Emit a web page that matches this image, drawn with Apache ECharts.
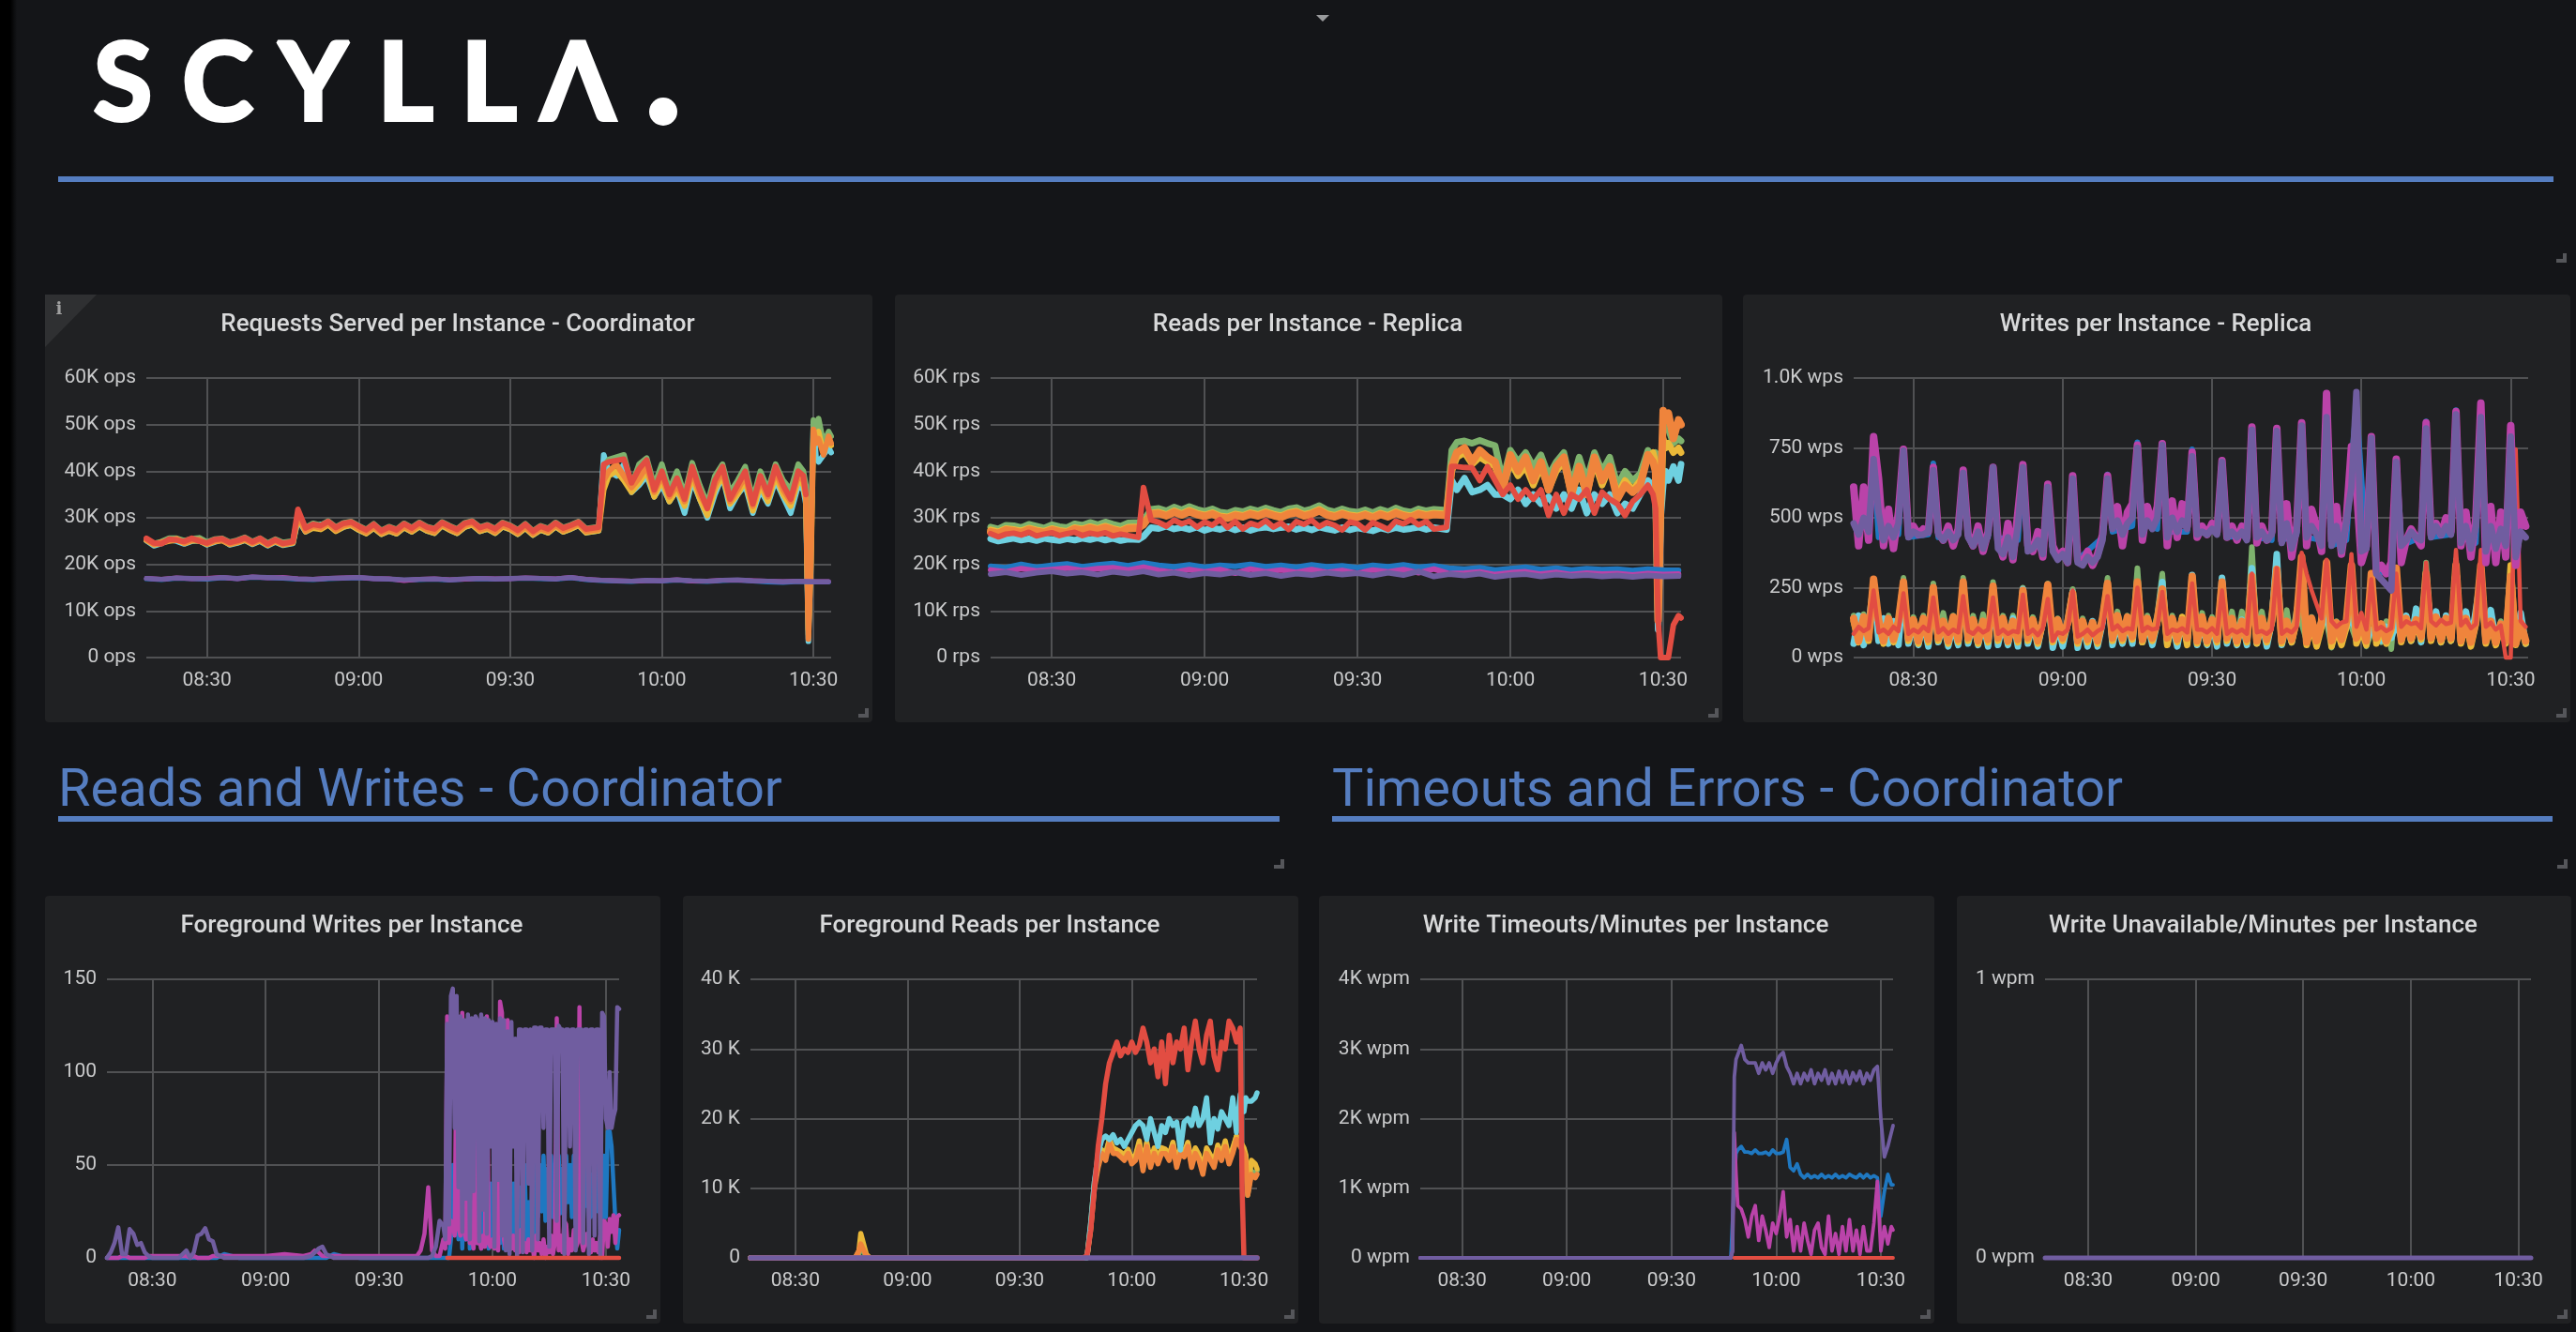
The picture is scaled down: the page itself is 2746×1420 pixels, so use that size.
<!DOCTYPE html>
<html><head><meta charset="utf-8">
<style>html,body{margin:0;padding:0;background:#141518}#c{width:2746px;height:1420px}</style>
<script src="https://cdn.jsdelivr.net/npm/echarts@6/dist/echarts.min.js"></script>
</head><body><div id="c"></div><script>
const GREEN='#7EB26D',YELLOW='#EAB839',CYAN='#6ED0E0',ORANGE='#EF843C',RED='#E24D42',BLUE='#1F78C1',MAGENTA='#BA43A9',PURPLE='#705DA0';
const tickMinutes=[510,540,570,600,630];
const timeLabels=['08:30','09:00','09:30','10:00','10:30'];
const T15=[498,499.5,501,502.5,504,505.5,507,508.5,510,511.5,513,514.5,516,517.5,519,520.5,522,523.5,525,527,528,529.5,531,532.5,534,535.5,537,538.5,540,541.5,543,544.5,546,547.5,549,550.5,552,553.5,555,556.5,558,559.5,561,562.5,564,565.5,567,568.5,570,571.5,573,574.5,576,577.5,579,580.5,582,583.5,585,587.5,588.5,589.5,591,592.5,594,595.5,597,598.5,600,601.5,603,604.5,606,607.5,609,610.5,612,613.5,615,616.5,618,619.5,621,622.5,624,625.5,627,628,628.5,629,629.5,630,630.5,631,632,633,633.5];
const T3=[498,501,504,507,510,513,516,519,522,525,528,531,534,537,540,543,546,549,552,555,558,561,564,567,570,573,576,579,582,585,588,591,594,597,600,603,606,609,612,615,618,621,624,627,630,633];
const T1=[498,499,500,501,502,503,504,505,506,507,508,509,510,511,512,513,514,515,516,517,518,519,520,521,522,523,524,525,526,527,528,529,530,531,532,533,534,535,536,537,538,539,540,541,542,543,544,545,546,547,548,549,550,551,552,553,554,555,556,557,558,559,560,561,562,563,564,565,566,567,568,569,570,571,572,573,574,575,576,577,578,579,580,581,582,583,584,585,586,587,588,589,590,591,592,593,594,595,596,597,598,599,600,601,602,603,604,605,606,607,608,609,610,611,612,613,614,615,616,617,618,619,620,621,622,623,624,625,626,627,628,629,630,631,632,633];
const Tblue=[501,502,503,507,508,509,513,514,515,519,520,521,525,526,527,531,532,533,536,537,538,541,542,543,548,549,550,554,555,556,559,560,561,565,566,567,571,572,573,577,578,579,582,583,584,587,588,589,592,593,594,597,598,599,601,602,603,606,607,608,612,613,614,618,619,620,623,624,625,629,630,631];
const T4=[498,499,500,501,502,503,504,505,506,507,508,509,510,513,517,519,520,521,522,523,524,525,526,527,529,533,540,545,550,552,553,554,555,556,558,560,565,570,575,578,580,581,582,583,584,585,586,587,587.5,588,588.5,589,589.5,590,590.5,591,591.5,592,592.5,593,593.5,594,594.5,595,595.5,596,596.5,597,597.5,598,598.5,599,599.5,600,600.5,601,601.5,602,602.5,603,603.5,604,604.5,605,605.5,606,606.5,607,607.5,608,608.5,609,609.5,610,610.5,611,611.5,612,612.5,613,613.5,614,614.5,615,615.5,616,616.5,617,617.5,618,618.5,619,619.5,620,620.5,621,621.5,622,622.5,623,623.5,624,624.5,625,625.5,626,626.5,627,627.5,628,628.5,629,629.5,630,630.5,631,631.5,632,632.5,633,633.5];
const T5=[498,510,520,525,526,527,527.5,528,529,530,540,550,560,570,580,585,586,587,588,589,590,591,592,593,594,595,596,597,598,599,600,601,602,603,604,605,606,607,608,609,610,611,612,613,614,615,616,617,618,619,620,621,622,623,624,625,626,627,628,629,629.5,630,630.5,631,632,633,633.5];
const T6=[498,586,587,587.5,588,588.5,589,590,591,592,593,594,595,596,597,598,599,600,601,602,603,604,605,606,607,608,609,610,611,612,613,614,615,616,617,618,619,620,621,622,623,624,625,626,627,628,629,630,631,632,633,633.5];
const Tflat=[498,633.5];
const Tlate=[588,633.5];

// Requests Served per Instance - Coordinator (K ops)
const p1Cyan=[25.1,24,24.5,25.3,25,24.4,25,25.1,24.2,24.8,25.3,24.2,24.6,25.2,24.3,25,24,24.8,24.1,24.5,29.5,27,27.9,28.6,28.5,27.2,28,28.4,27.4,26.7,27.8,26.5,27.2,26.6,27.9,27,28.1,27.2,26.7,28.3,27.4,26.7,28,28.5,27.1,27.6,26.7,28.1,27.5,26.5,27.8,26.3,27.4,26.8,28.1,27,27.6,28.4,26.8,27.2,43.5,40,39,41.5,35.5,37,39,34.5,37,33.5,36,31,38,34,30,35,39,32,35,37,31,36,33,38,34.5,31,37,36,33,3.5,27,50.5,43,42,43.5,45,44];
const p1Green=[25.4,24.5,24.9,25.6,25.6,25.1,25.5,25.7,24.8,25.4,25.6,24.8,25.2,25.8,24.9,25.6,24.6,25.4,24.7,25,29.8,27.9,28.8,28.4,29.3,28,28.9,29.2,28.3,27.5,28.7,27.3,28.1,27.5,28.8,27.9,29,28.1,27.7,29.1,28.3,27.6,28.9,29.3,28,28.5,27.7,29,28.4,27.4,28.7,27.2,28.3,27.7,29,27.9,28.5,29.2,27.7,28.1,41,42.5,43,43.5,37,41.5,42.8,37,41.5,36,40,35,41.8,37,33,39,41.5,35.5,38,41,34,40,36,41.5,38,36,41.5,40,37,5,25,51,47.5,51.3,46,48.5,47.5];
const p1Yellow=[25.2,24.2,24.6,25,25.2,24.5,25.1,25,24.3,24.9,25.1,24.3,24.7,25.2,24.4,25.1,24.1,24.9,24.2,24.6,30,27,27.8,27.5,28.5,27.1,28,28.4,27.4,26.6,27.8,26.5,27.2,26.6,27.9,27,28.1,27.2,26.7,28.3,27.4,26.7,28,28.5,27.1,27.6,26.7,28.1,27.5,26.5,27.8,26.3,27.4,26.8,28.1,27,27.6,28.4,26.8,27.2,36,39,40,38,35.5,37.5,40,34.5,38,33.5,36,32.5,39,34,30.5,36,39,33,35,38,31.5,37,33.5,39,35,32.5,38,37,34,6,20,48,47,48.5,44,47,45.5];
const p1Orange=[25.3,24.3,24.8,25.1,25.5,24.6,25.2,25.3,24.4,25,25.2,24.4,24.8,25.4,24.5,25.2,24.2,25,24.3,24.7,30.5,27.2,28.2,27.8,28.8,27.4,28.3,28.7,27.7,26.9,28.1,26.8,27.5,26.9,28.2,27.3,28.4,27.5,27,28.6,27.7,27,28.3,28.8,27.4,27.9,27,28.4,27.8,26.8,28.1,26.6,27.7,27.1,28.4,27.3,27.9,28.7,27.1,27.5,38,40,41.5,39,36.5,38.5,41,35.5,39,34.5,37,33.5,40,35,32,37,40,33.5,36,39,32.5,38,34.5,40,36,33.5,39,38,35,4,22,49,46,47,43.5,47.5,46];
const p1Red=[25.6,24.6,24.4,25.4,25.2,24.9,25.6,25,24.6,25.3,25.5,24.7,25.1,25.7,24.8,25.6,24.4,25.3,24.5,24.9,31.8,27.8,28.6,28.3,29.2,27.9,28.8,29.1,28.2,27.4,28.6,27.2,28,27.4,28.7,27.8,28.9,28,27.6,29,28.2,27.5,28.8,29.2,27.9,28.4,27.6,28.9,28.3,27.3,28.6,27.1,28.2,27.6,28.9,27.8,28.4,29.1,27.6,28,41.5,42,42.3,42.6,37.5,40.5,42.4,36,40,35,38.5,34,41,36,32,38,41,34,37,40,33,39,35,41,37,34,40,39,35];
const p1Blue=[16.9,16.7,17,16.9,16.8,17.1,16.9,17.2,17.1,17,16.8,16.7,16.9,17,17.1,16.9,16.8,16.6,16.7,16.8,16.6,16.8,16.9,16.8,16.9,17,16.9,16.8,17.1,16.7,16.5,16.4,16.3,16.5,16.4,16.6,16.4,16.3,16.5,16.6,16.4,16.2,16.1,16.3,16.2,16.2];
const p1Magenta=[17,16.8,17.1,16.9,17,17.2,16.9,17.3,17.1,17.2,16.9,16.8,17,17.1,17.2,16.9,16.9,16.5,16.8,16.9,16.7,16.8,17,16.9,16.9,17.1,17,16.9,17.2,16.8,16.6,16.5,16.4,16.5,16.5,16.7,16.4,16.4,16.6,16.6,16.5,16.4,16.3,16.4,16.3,16.3];
const p1Purple=[17,16.8,17.1,17,16.9,17.2,17,17.3,17.2,17.1,16.9,16.8,17,17.1,17.2,17,16.9,16.7,16.8,16.9,16.7,16.9,17,16.9,17,17.1,17,16.9,17.2,16.8,16.6,16.5,16.4,16.6,16.5,16.7,16.5,16.4,16.6,16.7,16.5,16.4,16.3,16.4,16.3,16.3];

// Reads per Instance - Replica (K rps)
const p2Cyan=[25.5,25,25.3,25.6,25.2,25.5,25.1,25.6,25.3,25.1,25.5,25.2,25.6,25.3,25.7,25.2,25.6,25.1,25.4,25.3,26,27.9,27.7,28.2,27.6,27.9,27.5,28,27.3,27.8,27.5,28,27.4,27.9,27.3,27.8,28,27.6,27.9,28.1,27.5,27.9,27.4,28,27.6,27.3,27.9,27.4,27.8,27.5,27.2,27.8,27.4,27.9,27.5,27.7,28,27.5,27.9,27.5,38,36,38.5,35.5,36,37,35,35,34,36,33,35,33,34.5,32,35,32,36,31,35,33,35,31,33,32,35,38,37,36,6,30,37,40,38,41,38,41.5];
const p2Green=[28,27.6,28.4,28.3,27.9,28.6,28.2,27.8,28.5,28.1,27.9,28.7,28.4,29,28.5,29.1,28.6,28.2,28.9,29,29.5,31.8,32,31.5,32.3,31.7,32.4,31.8,31.4,31.9,31.2,31,31.6,31.3,31.9,31.5,32.1,31.6,31.2,31.9,32.2,31.5,31.9,32.6,31.7,31.3,31.9,31.4,31.2,31.7,31.1,31.8,31.3,32.1,31.5,31.2,31.9,31.5,31.8,31.6,44.5,46.2,46.5,46,46.6,46,45.5,38,44.5,42,44,41,43.5,39,42,44,37,43,38,44,40,43,37,40,38,39.5,44.5,43,44,14,40,50,49,49,46,47,46.5];
const p2Yellow=[27.4,27,27.7,27.5,27.2,27.8,27.4,27.1,27.7,27.3,27.1,27.9,27.6,28.1,27.7,28.2,27.7,27.3,28,28.1,28.8,31,31.2,30.7,31.5,30.9,31.6,31,30.6,31.1,30.4,30.2,30.8,30.5,31.1,30.7,31.3,30.8,30.4,31.1,31.4,30.7,31.1,31.8,30.9,30.5,31.1,30.6,30.4,30.9,30.3,31,30.5,31.3,30.7,30.4,31.1,30.7,31,30.8,40,43,44,41.5,43,42,41,36,42,39,41,37,41,36,40,42,35,40,35,42,37,41,35,38,36,38,43,44,42,10,30,47,45,46,44,45,44];
const p2Orange=[27,26.6,27.4,27.2,26.8,27.5,27.1,26.8,27.4,27,26.8,27.6,27.3,27.8,27.4,27.9,27.4,27,27.7,27.8,28.5,30.8,30.9,30.4,31.2,30.6,31.3,30.7,30.3,30.8,30.1,29.9,30.5,30.2,30.8,30.4,31,30.5,30.1,30.8,31.1,30.4,30.8,31.5,30.6,30.2,30.8,30.3,30.1,30.6,30,30.7,30.2,31,30.4,30.1,30.8,30.4,30.7,30.5,41,44,45,42,44.5,43,42,36,43.5,40,43,38,42,36,41,43,35,41,35,43,38,41,34,37,35.5,37,43.5,42,40,8,35,53,51,52.5,47,51,50];
const p2Red=[26.6,25.9,26.5,26.7,26.3,26.9,26.1,26.5,26.8,26.2,26.6,26.9,26.2,26.7,26.4,26.8,26.1,26.5,26.2,25.8,36.5,29.5,29,28.2,29.5,28.7,29.3,28,29.1,28.4,29.6,27.9,29.2,27.6,28.8,28.3,29.4,28,28.9,27.5,29.2,28.6,29.5,28.1,29,28.4,27.4,29.1,28.7,27.4,29,28.3,27.5,29.3,28.7,29.6,28.5,29.2,27.6,28,41,41,40.8,40.7,38,41,38,35,37,34,36,34,36,30.5,35,31,35,34,36,31,35.5,34,33,30.5,33.5,35,37,35,32,8,0,0,0,0,7,9,8.5];
const p2Blue=[19.6,19.3,20,19.4,19.8,20.1,19.5,19.9,20.2,19.7,20.3,19.8,19.5,19.9,19.4,19.8,19.6,20,19.5,19.8,19.4,19.9,19.5,19.7,19.3,19.8,19.5,19.9,19.4,19.7,19.2,19,19.3,18.8,19.1,19.4,18.9,19.2,18.8,19.1,18.9,19,18.7,19,18.8,18.7];
const p2Magenta=[18.8,18.4,19.1,18.6,18.9,19.2,18.7,19.1,19.3,18.8,19.4,18.7,18.3,18.9,18.4,18.9,18.1,19,18.4,18.8,18.3,18.9,18.3,18.7,18.1,18.8,18.4,18.9,18.2,19,18,18.1,18.4,17.8,18.2,18.4,17.9,18.3,17.8,18.1,17.9,18,17.7,18,17.8,17.9];
const p2Purple=[17.9,18.3,17.7,18.2,18.5,18,18.3,17.8,18.4,18,18.5,17.8,18.2,17.6,18.1,17.8,18.3,17.7,18.1,17.5,18,17.7,18.2,17.8,18.1,17.6,18.2,17.7,18.5,17.4,17.9,17.6,18,17.3,17.7,17.9,17.4,17.8,17.5,17.7,17.4,17.6,17.3,17.6,17.4,17.5];

// Writes per Instance - Replica (wps)
const p3Cyan=[50,150,45,120,260,60,140,50,130,45,260,50,125,45,130,40,240,55,125,40,120,45,240,50,135,45,130,40,230,45,130,45,140,40,245,50,125,40,130,240,35,120,40,130,235,35,125,40,130,40,125,255,45,130,50,140,50,265,55,130,45,130,270,50,125,40,135,55,295,45,125,45,130,40,285,50,130,45,135,45,320,50,135,40,130,370,45,125,55,150,300,70,120,60,115,160,70,125,65,110,150,85,120,60,100,100,60,110,70,130,70,150,60,175,55,300,70,165,55,150,60,320,60,165,55,170,290,55,170,60,120,55,240,50,160,50];
const p3Green=[150,70,155,80,270,140,70,150,75,140,285,80,145,70,150,75,265,80,160,70,150,70,285,75,150,70,155,70,270,75,150,70,150,70,250,80,145,70,140,265,65,140,75,135,245,65,140,70,130,65,150,285,70,165,75,150,80,320,70,150,75,155,300,70,150,70,145,75,295,70,160,65,145,70,285,75,165,70,165,70,395,65,165,70,160,370,65,170,60,175,120,60,145,60,140,130,35,130,70,125,110,60,120,40,90,85,55,130,30,240,70,130,70,150,80,340,75,140,70,130,70,350,65,140,60,135,280,65,140,60,130,60,300,55,140,55];
const p3Yellow=[130,55,135,60,270,125,50,135,55,125,260,60,125,50,130,55,240,60,125,50,135,55,260,60,125,50,125,55,245,60,130,55,125,55,235,60,125,50,125,250,55,125,60,120,225,50,125,55,120,50,135,255,60,140,60,135,65,260,55,130,60,125,240,45,135,55,145,45,280,50,135,50,125,55,260,60,130,50,125,55,280,50,130,55,125,305,50,125,55,130,340,45,120,40,110,320,40,105,45,110,300,50,100,45,280,50,100,50,95,300,55,130,60,125,65,280,60,135,55,130,60,320,50,130,40,120,320,50,120,45,110,50,330,45,115,50];
const p3Orange=[140,60,145,70,280,135,60,140,65,130,270,70,135,60,140,65,250,70,130,60,145,65,270,70,135,60,130,65,255,70,140,60,130,65,240,70,135,60,130,260,65,135,70,125,230,60,130,65,125,60,140,265,70,150,70,145,75,270,65,140,70,135,245,70,140,65,135,70,290,60,145,60,135,65,270,70,140,60,130,65,290,60,140,65,135,315,60,130,65,140,360,55,140,60,130,340,60,125,65,130,330,70,130,60,300,70,120,60,110,320,65,140,70,135,75,300,70,145,65,140,70,330,60,140,55,130,330,60,130,55,120,60,290,50,125,60];
const p3Red=[85,110,95,105,240,90,100,85,110,95,230,85,100,90,110,95,215,90,105,85,100,90,220,95,85,105,90,100,215,85,100,85,95,90,225,85,100,80,105,210,60,90,85,100,240,75,85,100,80,95,105,220,100,115,95,105,100,250,95,110,100,105,235,85,100,95,105,90,265,100,100,90,105,85,240,85,100,90,100,85,300,90,95,85,100,320,85,100,90,110,375,300,240,190,140,350,130,110,125,130,370,110,160,100,280,100,110,95,105,300,110,130,120,125,105,340,130,115,135,120,125,385,115,135,105,120,385,110,125,100,115,0,0,745,130,110];
const p3Blue=[440,700,430,440,740,430,440,695,430,440,660,430,430,670,430,420,680,410,390,610,380,360,640,350,430,655,450,470,770,480,460,760,450,450,745,460,450,700,430,440,820,430,420,800,420,440,830,430,420,900,400,420,700,900,390,785,300,310,700,400,430,845,430,440,885,430,410,880,400,400,780,380];
const p3Magenta=[610,400,610,420,790,640,400,530,390,520,745,440,470,440,460,450,680,450,420,470,400,460,670,440,400,470,380,450,680,420,360,480,350,520,690,400,380,450,360,620,400,360,380,340,650,350,340,380,330,370,440,650,470,540,400,520,550,760,420,540,470,540,765,400,560,430,550,470,735,430,470,440,480,450,705,430,470,420,470,430,825,410,470,420,450,820,420,550,360,470,840,400,530,470,380,945,420,540,370,500,755,610,340,400,790,310,330,300,340,710,340,420,460,430,400,840,440,480,440,500,450,880,400,520,360,500,910,340,540,340,520,360,830,330,520,470];
const p3Purple=[480,440,500,450,710,520,420,470,430,480,740,430,450,440,440,450,670,440,420,450,420,440,660,430,400,450,390,440,680,390,370,430,360,470,680,380,390,420,370,610,380,350,370,340,640,340,330,360,340,360,420,640,460,490,440,480,500,750,440,490,460,500,760,430,500,450,490,460,720,440,450,440,460,440,700,430,450,430,450,420,815,430,450,420,440,810,410,480,390,450,830,430,470,440,400,860,400,470,380,490,610,950,380,390,785,300,280,260,240,700,400,420,450,430,420,820,430,470,440,470,440,870,410,470,390,470,860,380,470,390,460,400,790,360,450,430];

// Foreground Writes per Instance
const p4Blue=[0,0,0,0,0,0,0,0,0,0,0,0,0,0,0,0,0,0,0,0,0,0,0,0,2,0,0,0,0,0,0,0,0,0,2,1,0,0,0,0,0,0,0,0,0,0,0,0,0,0,0,10,50,20,55,10,40,5,50,10,45,5,30,10,55,8,30,5,45,10,35,5,40,8,48,5,35,8,50,5,45,10,35,5,40,10,45,8,38,5,50,8,30,5,42,10,55,22,50,25,55,20,48,30,55,22,50,28,55,24,48,20,55,30,50,22,55,18,52,26,55,20,50,28,55,22,45,30,55,25,50,20,55,22,68,68,60,40,20,5,15];
const p4Magenta=[0,0,0,0,1,1,0,0,0,0,0,1,1,1,1,1,0,1,0,0,0,0,1,1,1,1,1,2,1,2,4,3,1,1,1,1,1,1,1,1,1,4,13,38,4,1,1,10,5,130,8,20,18,12,130,16,12,132,14,10,40,8,12,5,128,8,10,5,12,6,130,8,6,10,5,8,4,138,132,10,5,128,8,5,12,4,10,3,15,5,8,3,10,4,8,0,12,4,8,2,10,0,6,3,12,2,8,129,4,12,3,20,18,2,10,4,15,5,8,135,10,4,8,13,6,3,10,4,8,3,12,0,20,18,6,21,14,23,8,22,23];
const p4Purple=[0,3,8,16.5,2,2,15.5,13,7,8,3,1,0,0,0,4,0,3,12,13,16,10,9,2,0,0,0,0,0,1,3,5,6,2,0,0,0,0,0,0,0,0,0,0,1,6,20,17,10,126,18,141,145,70,141,38,130,14,128,32,131,10,129,36,130,128,9,131,26,129,13,128,60,127,6,126,42,129,12,128,4,122,2,127,60,118,1,123,123,3,123,123,40,123,4,124,124,10,124,124,70,123,123,6,123,123,123,20,125,123,123,2,123,123,60,123,123,4,123,123,123,8,123,123,2,123,123,12,123,123,0,132,130,75,70,100,70,76,80,135,134];
const p4Red=[0,0];

// Foreground Reads per Instance (K)
const p5Green=[0,0,0,0,0,0.5,2,2,0,0,0,0,0,0,0,0,0,0,0,5,11,14,15.5,15,17,15.5,15.5,15,14.5,15.5,14,14.5,16.5,13,16.5,13.5,15.5,14,15.5,15.5,14.5,16.5,13.5,15.5,15,16.5,13.5,15.5,14.5,12.5,15.5,14.5,13.5,16,14.5,16.5,14,15.5,17.5,16.5,16.5,15.5,14.5,9,12.5,12,12.5];
const p5Yellow=[0,0,0,0,0,1,3.5,3.5,0.5,0,0,0,0,0,0,0,0,0,0,4.5,10.5,13.5,15.5,15,17,15.8,15.5,15.2,14.8,15.6,14.2,14.8,16.8,13.4,16.6,13.8,15.8,14.2,15.8,15.6,14.8,16.6,13.8,15.8,15.2,16.6,13.8,15.8,14.8,12.8,15.8,14.8,13.8,16.2,14.8,16.8,14.2,15.8,17.5,16.8,17,15.8,14.8,9.5,14,13.5,12.8];
const p5Orange=[0,0,0,0,0,1,2,2,0.3,0,0,0,0,0,0,0,0,0,0,4,10,13,15,14,16.5,15,15,14.5,14,15,13.5,14,16,12.5,16,13,15,13.5,15,15,14,16,13,15,14.5,16,13,15,14,12,15,14,13,15.5,14,16,13.5,15,17,16,16,15,14,9,12,11.5,12];
const p5Cyan=[0,0,0,0,0,0,0,0,0,0,0,0,0,0,0,0,0,0,0,5,11,15,17,17.5,17,17.7,16.5,17,16,17,18,19,19.5,19,17,20,18,16,19,18,20,19,19.5,15.5,19.5,20,19,21.5,19,20,23,16.5,20,18.5,21,20,19,23,18,23.5,22,21,23,22.5,22.5,23,23.7];
const p5Red=[0,0,0,0,0,0,0,0,0,0,0,0,0,0,0,0,0,0,0.3,4,10,16,20,25,28,29.5,31,29,30,29.5,31,29.5,30.5,33,31,28,30,26,31,25,32,28,31,30,33,27,31,34,30,28,32,34,29,27,31,30,34,33,31,33,10,0,0,0,0,0,0];
const p5Purple=[0,0];

// Write Timeouts/Minutes per Instance (K wpm)
const p6Blue=[0,0,0,0,1.1,1.5,1.55,1.6,1.52,1.52,1.5,1.55,1.5,1.5,1.52,1.48,1.55,1.5,1.5,1.52,1.7,1.3,1.25,1.35,1.2,1.15,1.2,1.15,1.18,1.15,1.2,1.15,1.18,1.15,1.2,1.15,1.18,1.15,1.2,1.17,1.15,1.2,1.15,1.2,1.15,1.18,1.15,0.6,0.95,1.2,1.05,1.05];
const p6Magenta=[0,0,0,0.1,1.8,1.2,0.75,0.7,0.55,0.3,0.6,0.75,0.25,0.6,0.4,0.15,0.5,0.35,0.6,0.95,0.3,0.55,0.1,0.45,0.1,0.5,0.25,0.05,0.4,0.5,0.15,0.05,0.6,0.1,0.35,0.05,0.45,0.1,0.55,0.1,0.4,0.05,0.45,0.1,0.1,0.5,1.1,0.1,0.45,0.2,0.45,0.4];
const p6Purple=[0,0,0,0.1,2.6,2.85,2.85,3.05,2.85,2.8,2.8,2.8,2.65,2.8,2.7,2.8,2.65,2.8,2.9,2.95,2.75,2.65,2.5,2.65,2.5,2.65,2.55,2.7,2.5,2.65,2.55,2.7,2.5,2.65,2.5,2.68,2.52,2.68,2.5,2.66,2.55,2.68,2.5,2.65,2.55,2.7,2.75,2,1.45,1.6,1.8,1.9];
const p6Red=[0,0];
// Write Unavailable/Minutes per Instance
const p7Purple=[0,0];

const logoLetters=['S','C','Y','L','L','Λ','.'];
const sectionTitles=['Reads and Writes - Coordinator','Timeouts and Errors - Coordinator'];
const panelTitles=['Requests Served per Instance - Coordinator','Reads per Instance - Replica','Writes per Instance - Replica','Foreground Writes per Instance','Foreground Reads per Instance','Write Timeouts/Minutes per Instance','Write Unavailable/Minutes per Instance'];

const fmtK=u=>v=>v===0?'0 '+u:v+'K '+u;
const layout=[
 {box:[48,314,882,456],grid:[156,403,730,298],max:60,step:10,fmt:fmtK('ops'),w:6},
 {box:[954,314,882,456],grid:[1056,403,736,298],max:60,step:10,fmt:fmtK('rps'),w:7},
 {box:[1858,314,882,456],grid:[1976,403,719,298],max:1000,step:250,fmt:v=>v===0?'0 wps':v===1000?'1.0K wps':v+' wps',w:6},
 {box:[48,955,656,456],grid:[114,1044,546,297],max:150,step:50,fmt:v=>''+v,w:4.5},
 {box:[728,955,656,456],grid:[800,1044,540,297],max:40,step:10,fmt:v=>v===0?'0':v+' K',w:5.5},
 {box:[1406,955,656,456],grid:[1514,1044,504,297],max:4,step:1,fmt:fmtK('wpm'),w:3.8},
 {box:[2086,955,655,456],grid:[2180,1044,518,297],max:1,step:1,fmt:v=>v+' wpm',w:5}
];
const marks=[
 [0,CYAN,T15,p1Cyan],[0,GREEN,T15,p1Green],[0,YELLOW,T15,p1Yellow],[0,ORANGE,T15,p1Orange],[0,RED,T15,p1Red],[0,BLUE,T3,p1Blue,5],[0,MAGENTA,T3,p1Magenta,5],[0,PURPLE,T3,p1Purple,5],
 [1,GREEN,T15,p2Green],[1,CYAN,T15,p2Cyan],[1,YELLOW,T15,p2Yellow],[1,ORANGE,T15,p2Orange,8],[1,RED,T15,p2Red,6],[1,BLUE,T3,p2Blue,6],[1,MAGENTA,T3,p2Magenta,6],[1,PURPLE,T3,p2Purple,6],
 [2,GREEN,T1,p3Green,6],[2,CYAN,T1,p3Cyan,7],[2,YELLOW,T1,p3Yellow,7],[2,ORANGE,T1,p3Orange,8],[2,RED,T1,p3Red,4.5],[2,BLUE,Tblue,p3Blue,6],[2,MAGENTA,T1,p3Magenta,8],[2,PURPLE,T1,p3Purple,7],
 [3,BLUE,T4,p4Blue],[3,MAGENTA,T4,p4Magenta],[3,PURPLE,T4,p4Purple],[3,RED,Tlate,p4Red],
 [4,GREEN,T5,p5Green],[4,YELLOW,T5,p5Yellow],[4,ORANGE,T5,p5Orange],[4,CYAN,T5,p5Cyan],[4,RED,T5,p5Red],[4,PURPLE,Tflat,p5Purple],
 [5,BLUE,T6,p6Blue],[5,MAGENTA,T6,p6Magenta],[5,PURPLE,T6,p6Purple],[5,RED,Tlate,p6Red],
 [6,PURPLE,Tflat,p7Purple]
];
const FONT='Roboto',GRID='#505153',LABEL='#c9cacb',RULE='#557dc0';
const minutesToLabel=m=>timeLabels[tickMinutes.indexOf(m)]||'';
const handle=(x,y)=>({type:'polygon',z:1,silent:true,shape:{points:[[x+7,y],[x+11,y],[x+11,y+10],[x,y+10],[x,y+6],[x+7,y+6]]},style:{fill:'#55565a'}});
const rule=(x,y,w,h)=>({type:'rect',z:1,silent:true,shape:{x,y,width:w,height:h},style:{fill:RULE}});
const logoX=[131,232,334,432,521,616];
const graphics=[];
graphics.push({type:'rect',z:0,silent:true,shape:{x:0,y:0,width:18,height:1420},style:{fill:new echarts.graphic.LinearGradient(0,0,1,0,[{offset:0,color:'#000'},{offset:0.6,color:'#000'},{offset:1,color:'#141518'}])}});
layout.forEach(p=>{const b=p.box;
 graphics.push({type:'rect',z:-5,silent:true,shape:{x:b[0],y:b[1],width:b[2],height:b[3],r:4},style:{fill:'#202123'}});
 graphics.push(handle(b[0]+b[2]-15,b[1]+b[3]-15));
});
[[2725,270],[1358,916],[2726,916]].forEach(h=>graphics.push(handle(h[0],h[1])));
graphics.push({type:'polygon',z:1,silent:true,shape:{points:[[48,314],[103,314],[48,370]]},style:{fill:'#2f3032'}});
graphics.push({type:'text',z:2,silent:true,style:{text:'i',x:63,y:330,fill:'#a0a0a0',font:'bold 18px "DejaVu Serif"',align:'center',verticalAlign:'middle'}});
graphics.push({type:'polygon',z:1,silent:true,shape:{points:[[1403,16],[1417,16],[1410,23]]},style:{fill:'#999a9c'}});
logoLetters.slice(0,6).forEach((ch,i)=>graphics.push({type:'text',z:2,silent:true,style:{text:ch,x:logoX[i],y:91,fill:'#fff',font:'700 114px Lato',align:'center',verticalAlign:'middle',stroke:'#fff',lineWidth:4}}));
graphics.push({type:'circle',z:2,silent:true,shape:{cx:707,cy:119,r:15},style:{fill:'#fff'}});
graphics.push(rule(62,188,2660,6),rule(62,870,1302,6),rule(1420,870,1301,6));
graphics.push({type:'text',z:2,silent:true,style:{text:sectionTitles[0],x:62,y:845,fill:RULE,font:'400 56px Roboto',align:'left',verticalAlign:'middle'}});
graphics.push({type:'text',z:2,silent:true,style:{text:sectionTitles[1],x:1420,y:845,fill:RULE,font:'400 56px Roboto',align:'left',verticalAlign:'middle'}});

const option={
 backgroundColor:'#141518',animation:false,
 graphic:{elements:graphics},
 title:layout.map((p,i)=>({text:panelTitles[i],left:p.box[0]+p.box[2]/2-6,top:p.box[1]+14,textAlign:'center',
   textStyle:{fontFamily:FONT,fontSize:26,fontWeight:500,color:'#d8d9da'}})),
 grid:layout.map(p=>({left:p.grid[0],top:p.grid[1],width:p.grid[2],height:p.grid[3],containLabel:false})),
 xAxis:layout.map((p,i)=>({type:'value',gridIndex:i,min:498,max:633.5,
   axisLine:{show:false},axisTick:{show:false,customValues:tickMinutes},
   axisLabel:{customValues:tickMinutes,formatter:minutesToLabel,margin:14,fontFamily:FONT,fontSize:21,color:LABEL,hideOverlap:false},
   splitLine:{show:true,lineStyle:{color:GRID,width:2}}})),
 yAxis:layout.map((p,i)=>({type:'value',gridIndex:i,min:0,max:p.max,interval:p.step,
   axisLine:{show:false},axisTick:{show:false},
   axisLabel:{formatter:p.fmt,margin:11,fontFamily:FONT,fontSize:21,color:LABEL},
   splitLine:{show:true,lineStyle:{color:GRID,width:2}}})),
 series:marks.map(m=>({type:'line',xAxisIndex:m[0],yAxisIndex:m[0],showSymbol:false,clip:false,silent:true,sampling:'none',
   lineStyle:{color:m[1],width:m[4]||layout[m[0]].w,join:'round',cap:'round'},itemStyle:{color:m[1]},
   data:m[2].map((t,i)=>[t,m[3][i]===undefined?null:m[3][i]])}))
};
echarts.init(document.getElementById('c'),null,{renderer:'canvas'}).setOption(option);
</script></body></html>
